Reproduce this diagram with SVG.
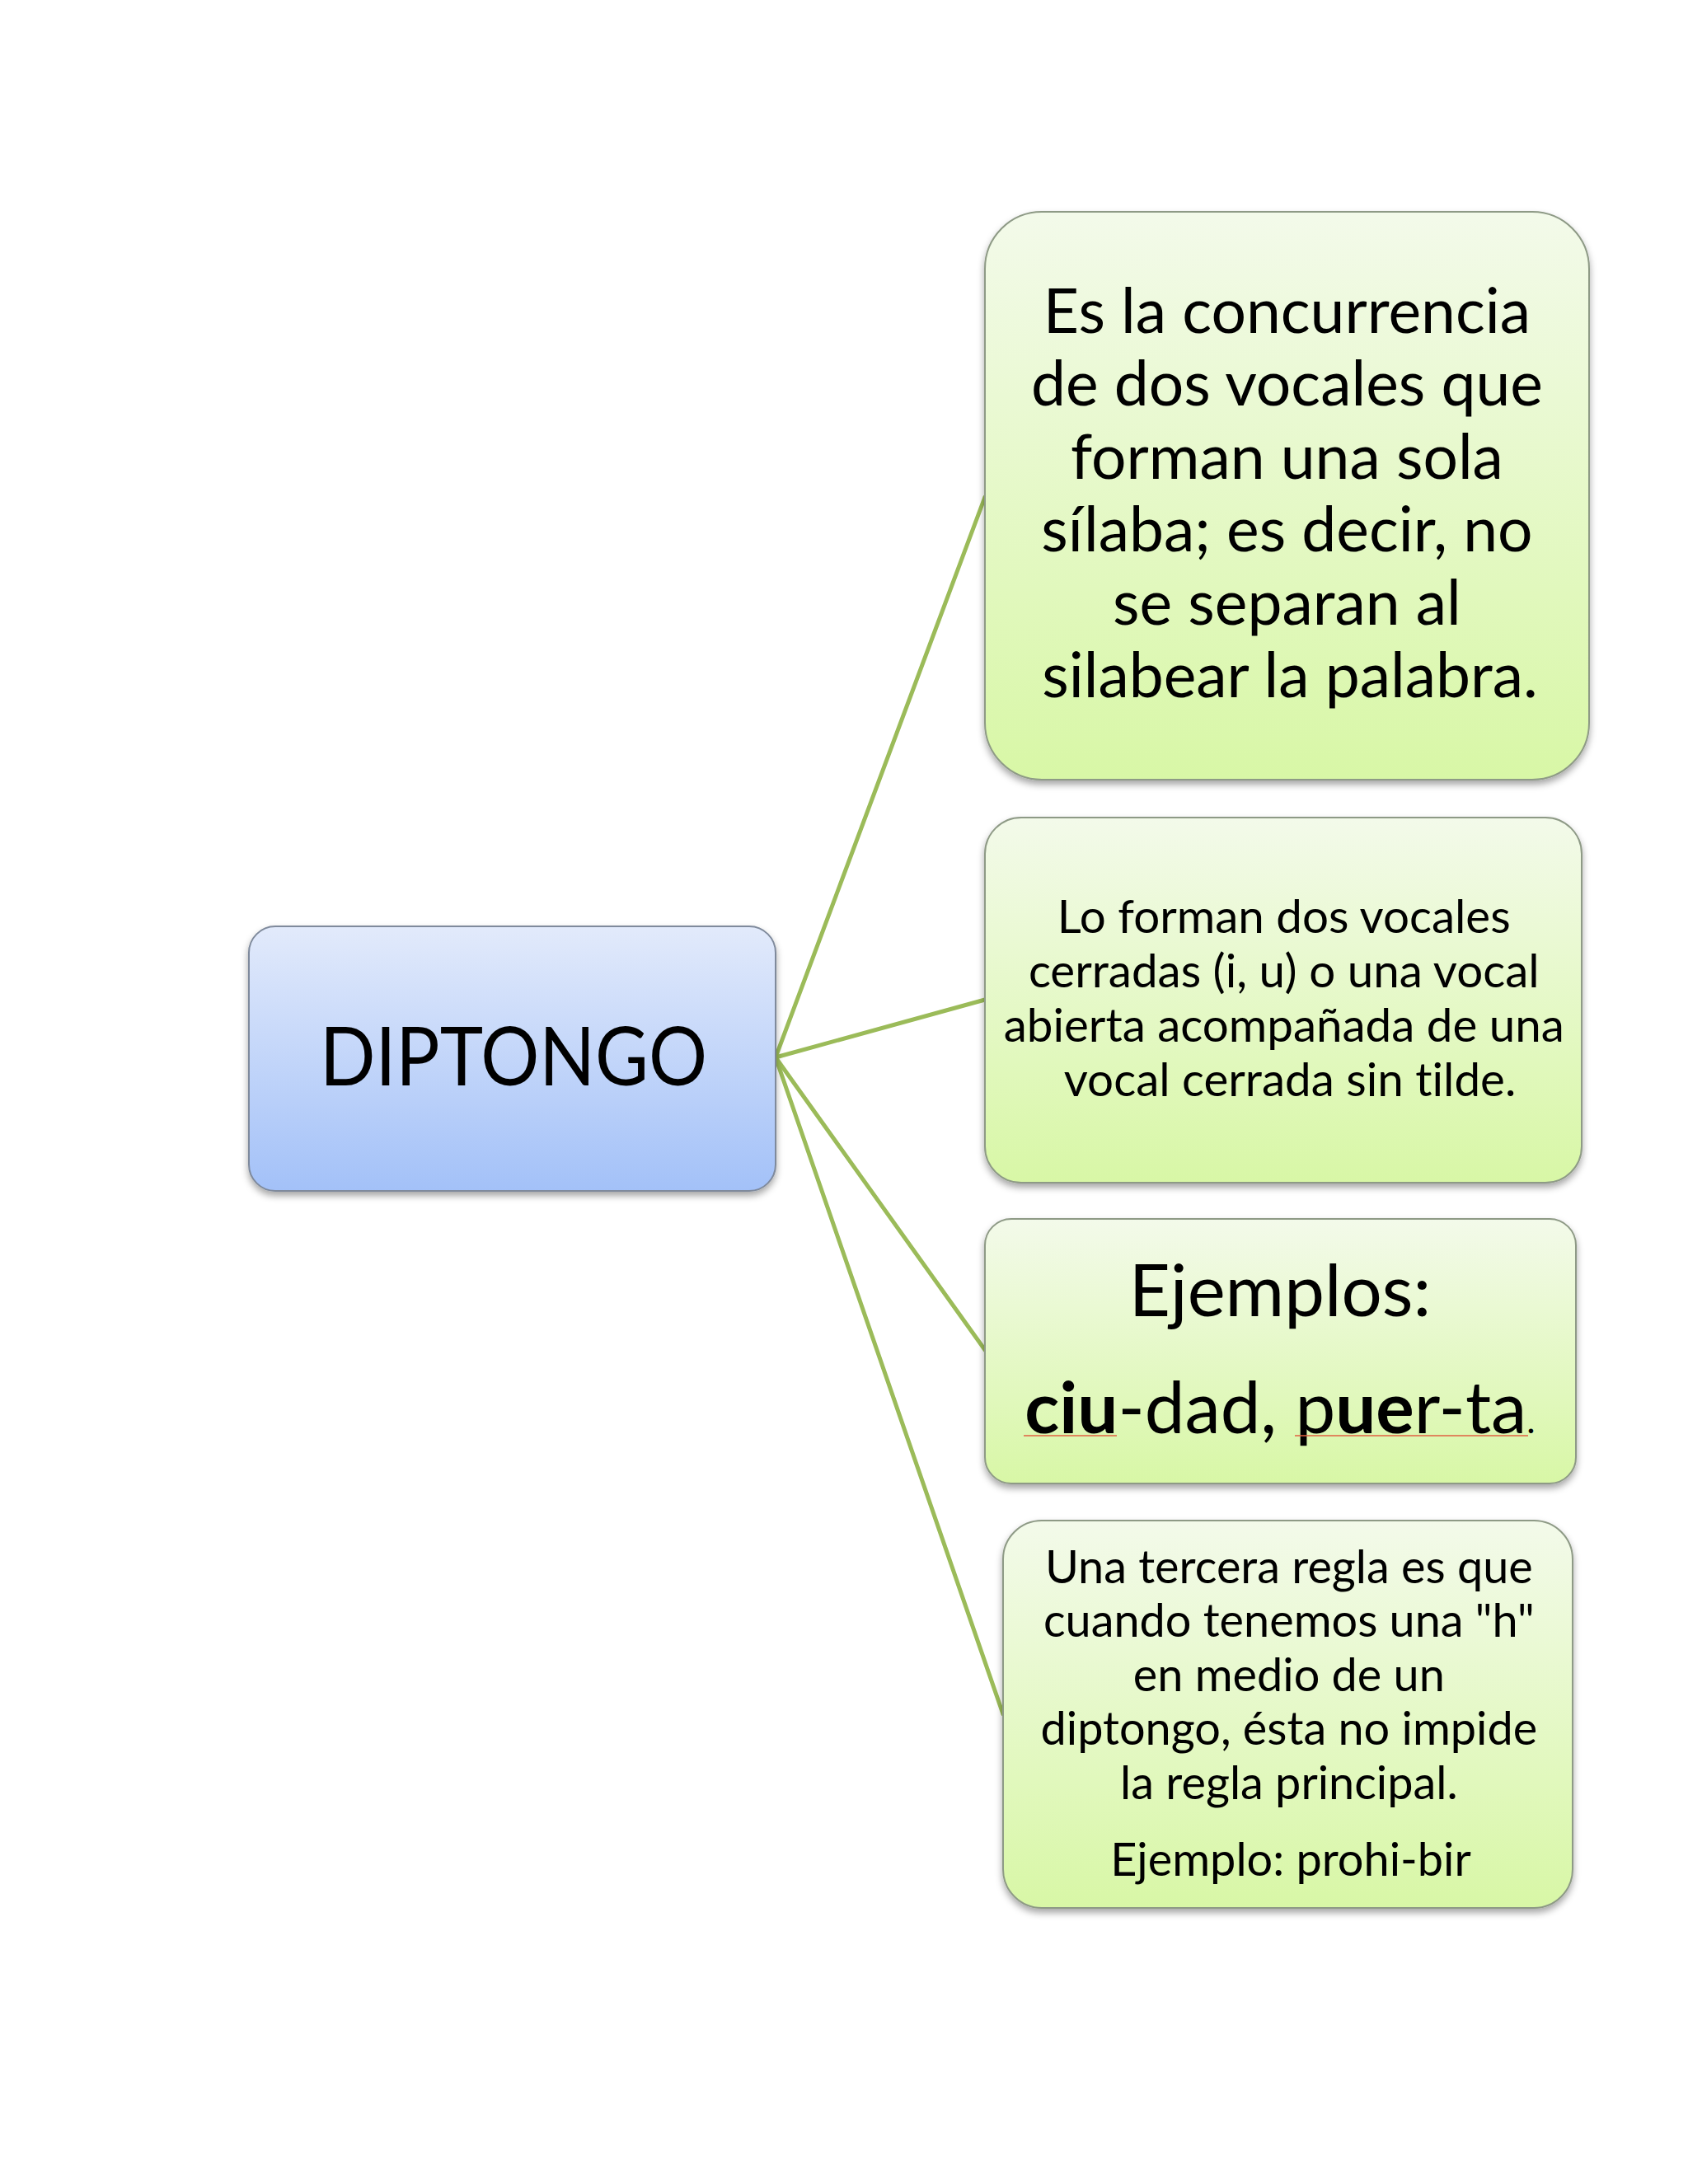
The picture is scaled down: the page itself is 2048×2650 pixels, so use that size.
<svg xmlns="http://www.w3.org/2000/svg" width="2048" height="2650" viewBox="0 0 2048 2650">
  <defs>
    <linearGradient id="gGreen" x1="0" y1="0" x2="0" y2="1">
      <stop offset="0" stop-color="#F3FAEA"/>
      <stop offset="1" stop-color="#D8F7A6"/>
    </linearGradient>
    <linearGradient id="gBlue" x1="0" y1="0" x2="0" y2="1">
      <stop offset="0" stop-color="#E2EAFB"/>
      <stop offset="1" stop-color="#A3C1F8"/>
    </linearGradient>
    <filter id="shadow" x="-10%" y="-10%" width="120%" height="125%">
      <feDropShadow dx="0" dy="5" stdDeviation="4" flood-color="#000000" flood-opacity="0.35"/>
    </filter>
  </defs>
  <style>
    .box-g { fill: url(#gGreen); stroke: #8E9A86; stroke-width: 2; filter: url(#shadow); }
    .box-b { fill: url(#gBlue); stroke: #7F8A9C; stroke-width: 2; filter: url(#shadow); }
    .conn { stroke: #9BBB59; stroke-width: 5; fill: none; stroke-linecap: round; }
    .t { font-family: Lato, "Liberation Sans", sans-serif; fill: #000000; text-anchor: middle; font-variant-ligatures: none; font-feature-settings: "liga" 0, "dlig" 0; }
    .b { font-weight: bold; }
    .sq { stroke: #E06040; stroke-width: 1.5; fill: none; }
  </style>
  <rect x="0" y="0" width="2048" height="2650" fill="#FFFFFF"/>

  <g id="connectors">
    <line class="conn" x1="941" y1="1283" x2="1195" y2="603"/>
    <line class="conn" x1="941" y1="1283" x2="1195" y2="1213"/>
    <line class="conn" x1="941" y1="1283" x2="1195" y2="1638"/>
    <line class="conn" x1="941" y1="1283" x2="1217" y2="2080"/>
  </g>

  <g id="node-diptongo">
    <rect class="box-b" x="302" y="1124" width="639" height="321" rx="32" ry="32"/>
    <text class="t" x="623" y="1317" font-size="98" textLength="470" lengthAdjust="spacingAndGlyphs">DIPTONGO</text>
  </g>

  <g id="node-definicion">
    <rect class="box-g" x="1195" y="257" width="733" height="689" rx="69" ry="69"/>
    <text class="t" font-size="75">
      <tspan x="1571" y="404">Es la concurrencia</tspan>
      <tspan x="1571" y="492">de dos vocales que</tspan>
      <tspan x="1571" y="581">forman una sola</tspan>
      <tspan x="1571" y="669">sílaba; es decir, no</tspan>
      <tspan x="1571" y="758">se separan al</tspan>
      <tspan x="1565" y="846">silabear la palabra.</tspan>
    </text>
  </g>

  <g id="node-formacion">
    <rect class="box-g" x="1195" y="992" width="724" height="443" rx="44" ry="44"/>
    <text class="t" font-size="56.5">
      <tspan x="1565" y="1132">Lo forman dos vocales</tspan>
      <tspan x="1565" y="1198">cerradas (i, u) o una vocal</tspan>
      <tspan x="1565" y="1264">abierta acompañada de una</tspan>
      <tspan x="1565" y="1330">vocal cerrada sin tilde.</tspan>
    </text>
  </g>

  <g id="node-ejemplos">
    <rect class="box-g" x="1195" y="1479" width="717" height="321" rx="32" ry="32"/>
    <text class="t" font-size="87" x="1553" y="1597">Ejemplos:</text>
    <text class="t" font-size="87" x="1553" y="1739"><tspan class="b">ciu</tspan>-dad, p<tspan class="b">ue</tspan>r-ta<tspan font-size="44">.</tspan></text>
    <line class="sq" x1="1242" y1="1742" x2="1355" y2="1742"/>
    <line class="sq" x1="1571" y1="1742" x2="1854" y2="1742"/>
  </g>

  <g id="node-regla-h">
    <rect class="box-g" x="1217" y="1845" width="691" height="470" rx="47" ry="47"/>
    <text class="t" font-size="55.8">
      <tspan x="1571" y="1921">Una tercera regla es que</tspan>
      <tspan x="1571" y="1986">cuando tenemos una "h"</tspan>
      <tspan x="1571" y="2052">en medio de un</tspan>
      <tspan x="1571" y="2117">diptongo, ésta no impide</tspan>
      <tspan x="1571" y="2183">la regla principal.</tspan>
      <tspan x="1566" y="2276">Ejemplo: prohi-bir</tspan>
    </text>
  </g>
</svg>
